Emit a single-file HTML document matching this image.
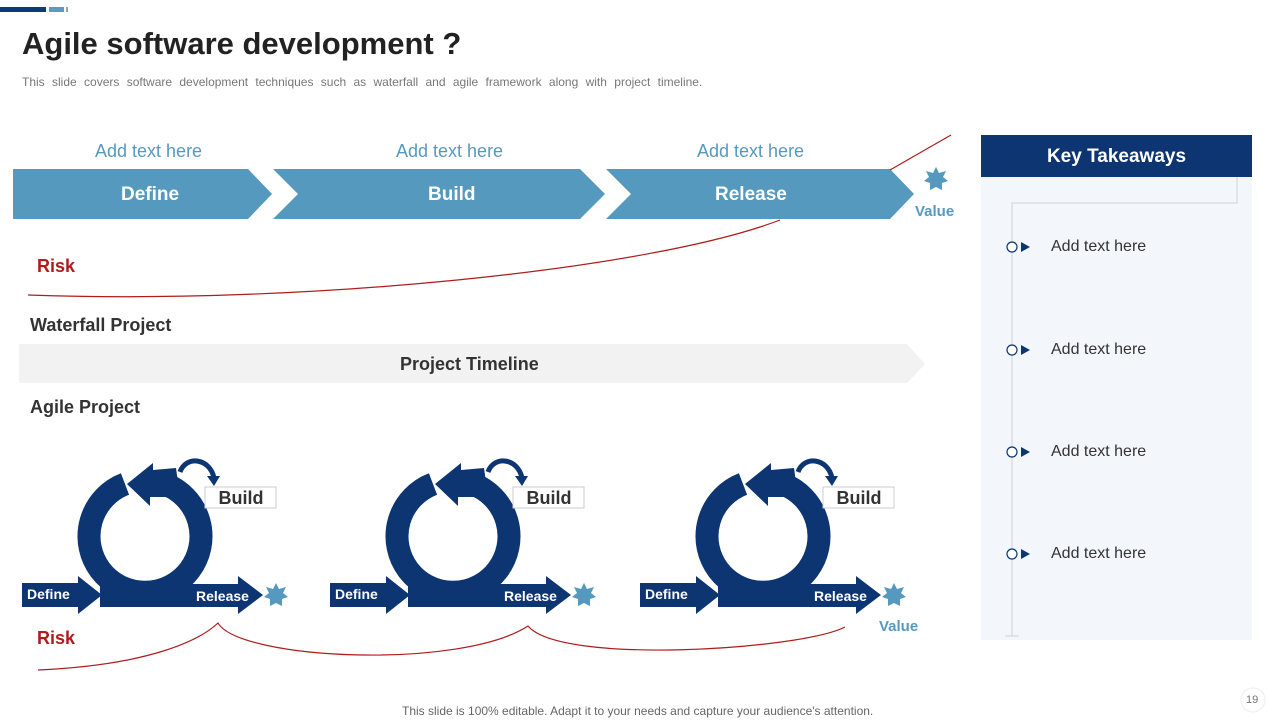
<!DOCTYPE html>
<html><head><style>
body{margin:0;width:1280px;height:720px;background:#fff;font-family:"Liberation Sans",Arial,sans-serif;position:relative;overflow:hidden}
.a{position:absolute}
</style></head><body>
<div class="a" style="left:0;top:7px;width:46px;height:5px;background:#0a3a78"></div>
<div class="a" style="left:49px;top:7px;width:15px;height:5px;background:#5a9bc4"></div>
<div class="a" style="left:66px;top:7px;width:2px;height:5px;background:#8aa"></div>
<div class="a" style="left:22px;top:26px;font-size:31px;font-weight:bold;color:#222">Agile software development ?</div>
<div class="a" style="left:22px;top:75px;font-size:12px;color:#777;word-spacing:4px">This slide covers software development techniques such as waterfall and agile framework along with project timeline.</div>

<svg class="a" style="left:0;top:0" width="1280" height="720">
 <polygon points="13,169 248,169 272,194 248,219 13,219" fill="#5699bf"/>
 <polygon points="273,169 580,169 605,194 580,219 273,219 298,194" fill="#5699bf"/>
 <polygon points="606,169 890,169 914,194 890,219 606,219 631,194" fill="#5699bf"/>
 <path d="M28,295 C300,305 650,270 780,220" stroke="#b01c1c" fill="none" stroke-width="1.2"/>
 <path d="M890,170 L951,135" stroke="#b01c1c" fill="none" stroke-width="1.2"/>
 <polygon points="936,167 939,173 946,171 943,177 948,181 942,183 942,190 936,187 930,190 930,183 924,181 929,177 926,171 933,173" fill="#5699bf"/>
 <polygon points="19,344 907,344 925,364 907,383 19,383" fill="#f2f2f2"/>
 <defs>
  <g id="cyc">
   <path d="M125,484 A56,56 0 1,0 165,484" stroke="#0d3572" stroke-width="23" fill="none"/>
   <polygon points="153,463 127,484 150,506 150,497 180,497 176,468 153,470" fill="#0d3572"/>
   <line x1="152" y1="505" x2="126" y2="480" stroke="#fff" stroke-width="0"/>
   <polyline points="146,496 134,484 146,472" stroke="#fff" stroke-width="0" fill="none"/>
   <rect x="100" y="585" width="110" height="22" fill="#0d3572"/>
   <path d="M180,472 C186,455 210,458 214,478" stroke="#0d3572" stroke-width="5" fill="none"/>
   <polygon points="207,476 220,476 214,486" fill="#0d3572"/>
   <polygon points="22,583 78,583 78,576 102,595 78,614 78,607 22,607" fill="#0d3572"/>
   <polygon points="167,607 190,584 238,584 238,576 263,595 238,614 238,607" fill="#0d3572"/>
   <rect x="205" y="487" width="71" height="21" fill="#fff" stroke="#ccc"/>
   <text x="241" y="504" font-size="18" font-weight="bold" fill="#333" text-anchor="middle" font-family="Liberation Sans">Build</text>
   <text x="27" y="599" font-size="14" font-weight="bold" fill="#fff" font-family="Liberation Sans">Define</text>
   <text x="196" y="601" font-size="14" font-weight="bold" fill="#fff" font-family="Liberation Sans">Release</text>
   <polygon points="276,583 279,589 286,587 283,593 288,597 282,599 282,606 276,603 270,606 270,599 264,597 269,593 266,587 273,589" fill="#5699bf"/>
  </g>
 </defs>
 <use href="#cyc"/>
 <use href="#cyc" x="308"/>
 <use href="#cyc" x="618"/>
 <path d="M38,670 C150,665 200,640 218,623 C240,660 460,670 528,626 C560,665 800,650 845,627" stroke="#b01c1c" fill="none" stroke-width="1.2"/>
 <rect x="981" y="177" width="271" height="463" fill="#f3f7fc"/>
 <rect x="981" y="135" width="271" height="42" fill="#0d3572"/>
 <path d="M1237,177 V203 H1012 V636" stroke="#ccd3dc" fill="none"/>
 <line x1="1005" y1="636" x2="1019" y2="636" stroke="#ccd3dc"/>
 <g fill="#fff" stroke="#0d3572" stroke-width="1.2">
  <circle cx="1012" cy="247" r="5"/><circle cx="1012" cy="350" r="5"/><circle cx="1012" cy="452" r="5"/><circle cx="1012" cy="554" r="5"/>
 </g>
 <g fill="#0d3572">
  <polygon points="1021,242 1030,247 1021,252"/><polygon points="1021,345 1030,350 1021,355"/><polygon points="1021,447 1030,452 1021,457"/><polygon points="1021,549 1030,554 1021,559"/>
 </g>
 <circle cx="1253" cy="700" r="12" fill="none" stroke="#eee"/>
</svg>
<div class="a" style="left:95px;top:141px;font-size:18px;color:#5699bf">Add text here</div>
<div class="a" style="left:396px;top:141px;font-size:18px;color:#5699bf">Add text here</div>
<div class="a" style="left:697px;top:141px;font-size:18px;color:#5699bf">Add text here</div>
<div class="a" style="left:121px;top:184px;font-size:19px;font-weight:bold;color:#fff">Define</div>
<div class="a" style="left:428px;top:184px;font-size:19px;font-weight:bold;color:#fff">Build</div>
<div class="a" style="left:715px;top:184px;font-size:19px;font-weight:bold;color:#fff">Release</div>
<div class="a" style="left:915px;top:203px;font-size:15px;font-weight:bold;color:#5699bf">Value</div>
<div class="a" style="left:37px;top:256px;font-size:18px;font-weight:bold;color:#b01c1c">Risk</div>
<div class="a" style="left:30px;top:315px;font-size:18px;font-weight:bold;color:#333">Waterfall Project</div>
<div class="a" style="left:400px;top:354px;font-size:18px;font-weight:bold;color:#333">Project Timeline</div>
<div class="a" style="left:30px;top:397px;font-size:18px;font-weight:bold;color:#333">Agile Project</div>
<div class="a" style="left:37px;top:628px;font-size:18px;font-weight:bold;color:#b01c1c">Risk</div>
<div class="a" style="left:879px;top:618px;font-size:15px;font-weight:bold;color:#5699bf">Value</div>
<div class="a" style="left:981px;top:146px;width:271px;text-align:center;font-size:19px;font-weight:bold;color:#fff">Key Takeaways</div>
<div class="a" style="left:1051px;top:238px;font-size:16px;color:#333">Add text here</div>
<div class="a" style="left:1051px;top:341px;font-size:16px;color:#333">Add text here</div>
<div class="a" style="left:1051px;top:443px;font-size:16px;color:#333">Add text here</div>
<div class="a" style="left:1051px;top:545px;font-size:16px;color:#333">Add text here</div>
<div class="a" style="left:402px;top:704px;font-size:12px;color:#666">This slide is 100% editable. Adapt it to your needs and capture your audience's attention.</div>
<div class="a" style="left:1246px;top:694px;font-size:11px;color:#777">19</div>
</body></html>
